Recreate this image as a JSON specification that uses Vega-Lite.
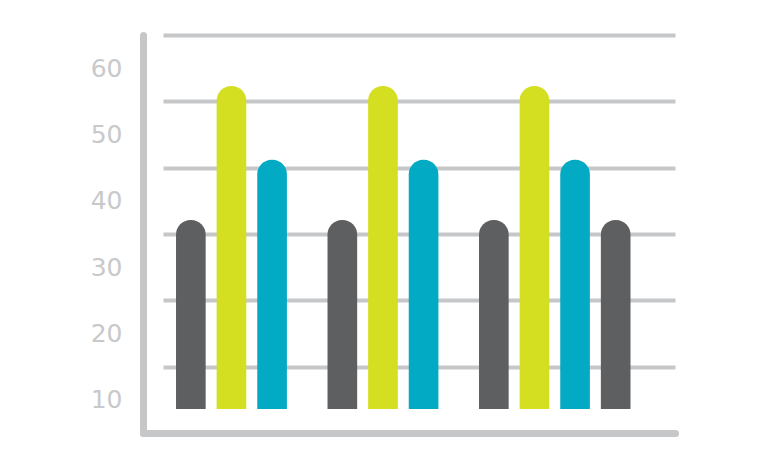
{
  "$schema": "https://vega.github.io/schema/vega-lite/v6.json",
  "autosize": {"type": "none"},
  "padding": {"left": 143, "top": 35, "right": 93, "bottom": 28},
  "width": 532,
  "height": 398,
  "background": "#ffffff",
  "config": {"view": {"stroke": null}},
  "data": {
    "values": [
      {"group": "A", "series": "s1", "value": 37.1},
      {"group": "A", "series": "s2", "value": 57.3},
      {"group": "A", "series": "s3", "value": 46.2},
      {"group": "B", "series": "s1", "value": 37.1},
      {"group": "B", "series": "s2", "value": 57.3},
      {"group": "B", "series": "s3", "value": 46.2},
      {"group": "C", "series": "s1", "value": 37.1},
      {"group": "C", "series": "s2", "value": 57.3},
      {"group": "C", "series": "s3", "value": 46.2},
      {"group": "C", "series": "s4", "value": 37.1}
    ]
  },
  "mark": {
    "type": "bar",
    "cornerRadiusTopLeft": 14.5,
    "cornerRadiusTopRight": 14.5
  },
  "encoding": {
    "x": {
      "field": "group",
      "type": "nominal",
      "scale": {"paddingInner": 0, "paddingOuter": 0.2558, "align": 0.426},
      "axis": {
        "title": null,
        "labels": false,
        "ticks": false,
        "grid": false,
        "domain": true,
        "domainColor": "#c5c7c9",
        "domainWidth": 7,
        "domainCap": "round"
      }
    },
    "xOffset": {
      "field": "series",
      "type": "nominal",
      "scale": {"domain": ["s1", "s2", "s3", "s4"], "paddingInner": 0.27, "paddingOuter": 0}
    },
    "y": {
      "field": "value",
      "type": "quantitative",
      "scale": {"domain": [5, 65], "nice": false, "zero": false},
      "axis": {
        "title": null,
        "values": [15, 25, 35, 45, 55, 65],
        "labelExpr": "datum.value - 5",
        "labelOffset": 33,
        "labelBaseline": "middle",
        "labelPadding": 21,
        "labelFont": "DejaVu Sans",
        "labelFontSize": 25,
        "labelColor": "#c8c9cb",
        "ticks": false,
        "tickSize": 0,
        "domain": true,
        "domainColor": "#c5c7c9",
        "domainWidth": 7,
        "domainCap": "round",
        "grid": true,
        "gridColor": "#c5c7c9",
        "gridWidth": 4,
        "gridCap": "butt",
        "gridDash": [0, 20, 1000],
        "gridOpacity": 1
      }
    },
    "y2": {"datum": 8.6},
    "color": {
      "field": "series",
      "type": "nominal",
      "scale": {"domain": ["s1", "s2", "s3", "s4"], "range": ["#5e5f61", "#d4df22", "#03aac3", "#5e5f61"]},
      "legend": null
    }
  }
}
